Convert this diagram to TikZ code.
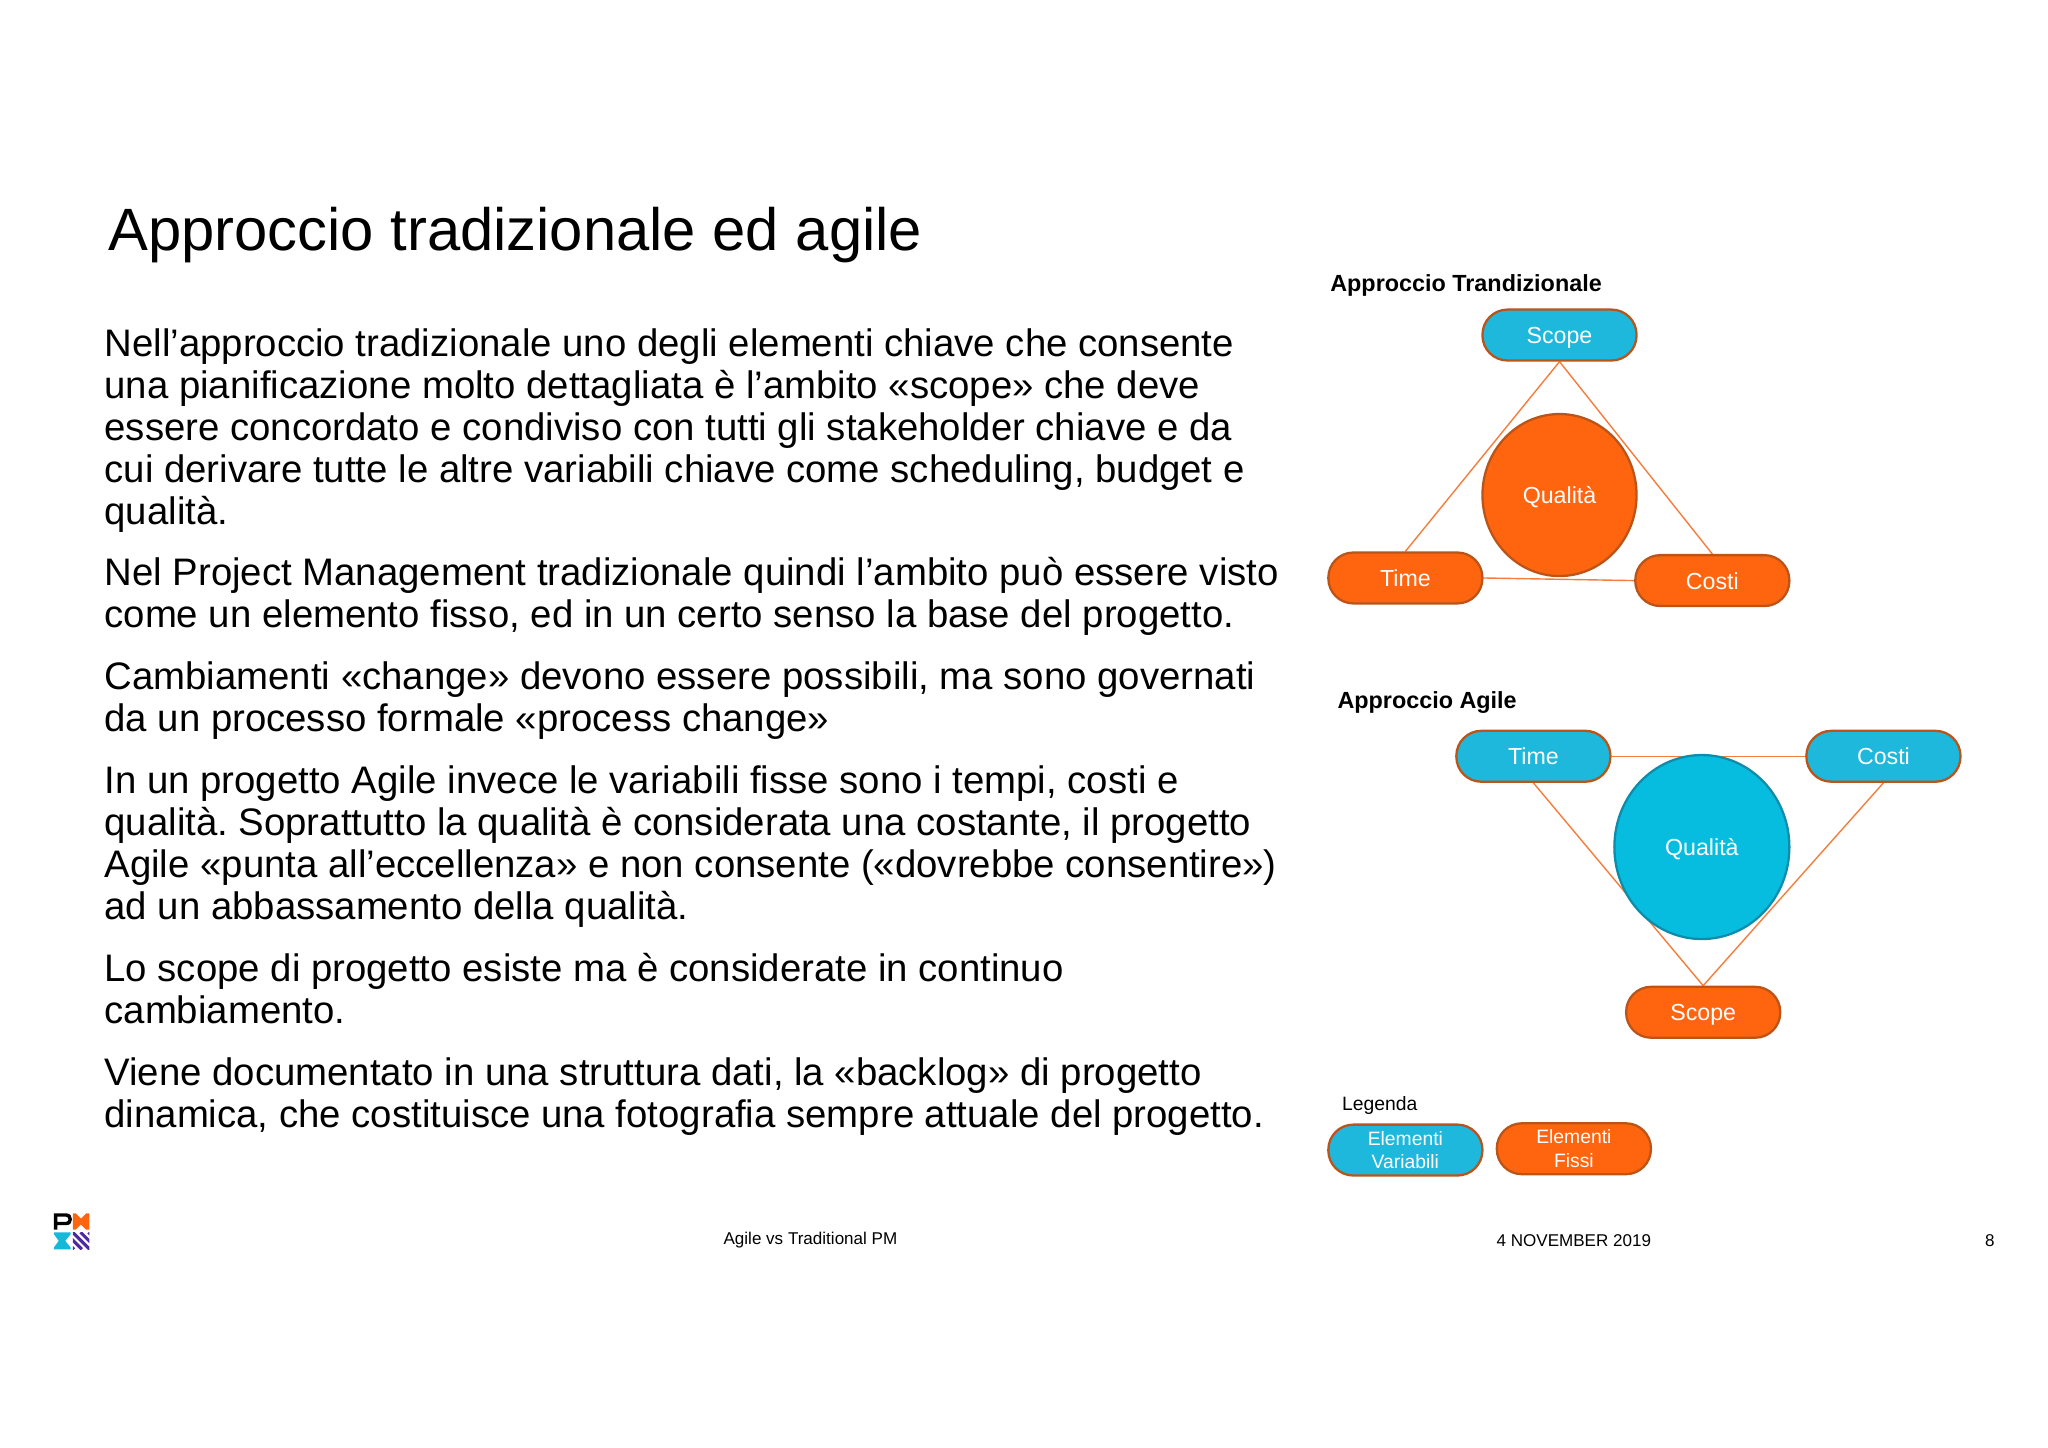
\documentclass[tikz,border=0pt]{standalone}
\usepackage{fontspec}
\setmainfont{Liberation Sans}
\frenchspacing
\usetikzlibrary{positioning}
\usetikzlibrary{shapes.geometric}
\usetikzlibrary{backgrounds}
\definecolor{orangeFill}{RGB}{255,100,15}
\definecolor{cyanFill}{RGB}{29,184,220}
\definecolor{cyanCircle}{RGB}{6,189,224}
\definecolor{pillBorder}{RGB}{186,84,24}
\definecolor{circleBorderCyan}{RGB}{14,140,170}
\definecolor{linkColor}{RGB}{245,125,60}
\definecolor{logoPurple}{RGB}{80,40,160}
\definecolor{logoCyan}{RGB}{20,185,215}
\tikzstyle{slide} = [x = 0.013061cm, y = -0.013061cm]
\tikzstyle{bodyText} = [anchor=north west, inner sep=0, align=left, font=\fontsize{10.91pt}{11.95pt}\selectfont]
\tikzstyle{titleText} = [anchor=base west, inner sep=0, font=\fontsize{17pt}{20pt}\selectfont]
\tikzstyle{headText} = [anchor=base west, inner sep=0, font=\fontsize{6.65pt}{8pt}\selectfont\bfseries]
\tikzstyle{smallText} = [anchor=base, inner sep=0, font=\fontsize{4.85pt}{6pt}\selectfont]
\tikzstyle{pillBase} = [draw=pillBorder, line width=.65pt, rounded corners=.25cm, minimum width=1.541cm, minimum height=.509cm, inner sep=0, text=white]
\tikzstyle{pillStyle} = [pillBase, text height=4.8pt, text depth=0pt, font=\fontsize{6.6pt}{8pt}\selectfont]
\tikzstyle{legendPill} = [pillBase, align=center, font=\fontsize{5.5pt}{6.66pt}\selectfont]
\tikzstyle{ovalStyle} = [ellipse, inner sep=0, line width=.65pt, text=white, text height=4.8pt, text depth=0pt, font=\fontsize{6.6pt}{8pt}\selectfont]
\tikzstyle{linkLine} = [draw=linkColor, line width=.4pt]
\newcommand{\pill}[5]{\node [pillStyle, fill=#4] (#1) at (#2,#3) {#5};}
\newcommand{\para}[4]{\node [bodyText] (#1) at (#2,#3) {#4};}
\begin{document}
\begin{tikzpicture}[slide]
  \useasboundingbox (0,0) rectangle (1568,1108);
  % text column
  \node [titleText] (title) at (82.5,192) {Approccio tradizionale ed agile};
  \para{paraScope}{79.5}{251}{Nell’approccio tradizionale uno degli elementi chiave che consente\\una pianificazione molto dettagliata è l’ambito «scope» che deve\\essere concordato e condiviso con tutti gli stakeholder chiave e da\\cui derivare tutte le altre variabili chiave come scheduling, budget e\\qualità.}
  \para{paraFixed}{79.5}{426}{Nel Project Management tradizionale quindi l’ambito può essere visto\\come un elemento fisso, ed in un certo senso la base del progetto.}
  \para{paraChange}{79.5}{506}{Cambiamenti «change» devono essere possibili, ma sono governati\\da un processo formale «process change»}
  \para{paraAgile}{79.5}{586}{In un progetto Agile invece le variabili fisse sono i tempi, costi e\\qualità. Soprattutto la qualità è considerata una costante, il progetto\\Agile «punta all’eccellenza» e non consente («dovrebbe consentire»)\\ad un abbassamento della qualità.}
  \para{paraLives}{79.5}{729.5}{Lo scope di progetto esiste ma è considerate in continuo\\cambiamento.}
  \para{paraBacklog}{79.5}{809.5}{Viene documentato in una struttura dati, la «backlog» di progetto\\dinamica, che costituisce una fotografia sempre attuale del progetto.}

  % traditional triangle
  \node [headText] (headTrad) at (1018,223.5) {Approccio Trandizionale};
  \pill{scopeTrad}{1194}{256.5}{cyanFill}{Scope}
  \pill{timeTrad}{1076}{442.5}{orangeFill}{Time}
  \pill{costiTrad}{1311}{444.5}{orangeFill}{Costi}
  \node [ovalStyle, draw=pillBorder, fill=orangeFill, minimum width=1.541cm, minimum height=1.62cm] (qualTrad) at (1194,379) {Qualità};
  \begin{pgfonlayer}{background}
    \draw [linkLine] (scopeTrad.south) -- (timeTrad.north);
    \draw [linkLine] (scopeTrad.south) -- (costiTrad.north);
    \draw [linkLine] (timeTrad.east) -- (costiTrad.west);
  \end{pgfonlayer}

  % agile triangle
  \node [headText] (headAgile) at (1023.5,542.5) {Approccio Agile};
  \pill{timeAgile}{1174}{579}{cyanFill}{Time}
  \pill{costiAgile}{1442}{579}{cyanFill}{Costi}
  \pill{scopeAgile}{1304}{775}{orangeFill}{Scope}
  \node [ovalStyle, draw=circleBorderCyan, fill=cyanCircle, minimum width=1.75cm, minimum height=1.84cm] (qualAgile) at (1303,648.5) {Qualità};
  \begin{pgfonlayer}{background}
    \draw [linkLine] (timeAgile.east) -- (costiAgile.west);
    \draw [linkLine] (timeAgile.south) -- (scopeAgile.north);
    \draw [linkLine] (costiAgile.south) -- (scopeAgile.north);
  \end{pgfonlayer}

  % legend
  \node [smallText, anchor=base west, font=\fontsize{5.5pt}{6pt}\selectfont] (legenda) at (1027,850) {Legenda};
  \node [legendPill, fill=cyanFill] (legendVar) at (1076,880.5) {Elementi\\Variabili};
  \node [legendPill, fill=orangeFill] (legendFix) at (1205,879.5) {Elementi\\Fissi};

  % footer
  \node [smallText] (footName) at (620.5,953) {Agile vs Traditional PM};
  \node [smallText] (footDate) at (1205,954) {4 NOVEMBER 2019};
  \node [smallText] (footPage) at (1523.5,954) {8};

  % logo
  \fill [black, even odd rule] (41.3,929) -- (51,929) .. controls (56.5,929) and (56.5,938) .. (51,938) -- (44,938) -- (44,941.5) -- (41.3,941.5) -- cycle
    (44,931.5) -- (44,935.5) -- (50.5,935.5) .. controls (53,935.5) and (53,931.5) .. (50.5,931.5) -- cycle;
  \fill [orangeFill] (55.7,929) -- (58,929) -- (62,933) -- (66,929) -- (68.4,929) -- (68.4,941.5) -- (66,941.5) -- (62,937.5) -- (58,941.5) -- (55.7,941.5) -- cycle;
  \fill [logoCyan] (41.3,943.5) -- (54,943.5) -- (54,945) -- (50,950) -- (54,955) -- (54,956.5) -- (41.3,956.5) -- (41.3,955) -- (45,950) -- (41.3,945) -- cycle;
  \begin{scope}
    \clip (55.7,943.5) rectangle (68.4,956.5);
    \foreach \stripe in {-12,-6,...,12} {
      \draw [logoPurple, line width=.9pt] (55.7+\stripe,943.5) -- +(13,13);
    }
  \end{scope}
\end{tikzpicture}
\end{document}
